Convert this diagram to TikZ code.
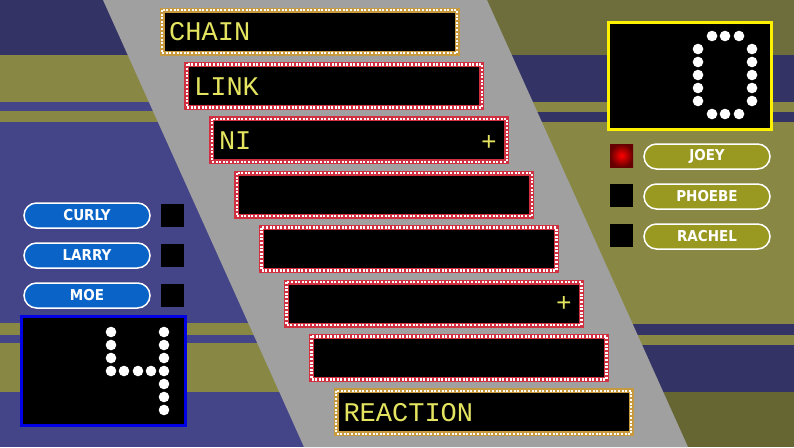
\documentclass[tikz,border=0pt]{standalone}
\usepackage{fontspec}
\setmainfont{Liberation Sans}
\newfontfamily\lcdfont{Liberation Mono}
\newfontfamily\pillfont{DejaVu Sans Condensed}
\begin{document}
\begin{tikzpicture}[x=1pt,y=-1pt,
  wordbox/.style={draw=#1,line width=5pt,fill=black},
  lights/.style={draw=white,line width=2.3pt,dash pattern=on 2pt off 1.6pt},
  lcd/.style={text=lcdy,font=\lcdfont\fontsize{27}{27}\selectfont,anchor=west,inner sep=0},
  pill/.style={draw=white,line width=1.5pt,fill=#1,rounded corners=12.5pt},
  pilltext/.style={text=white,font=\pillfont\bfseries\fontsize{15}{15}\selectfont,inner sep=0},
  dot/.style={fill=white,draw=none},
  sq/.style={fill=black,draw=none}]
\definecolor{lcdy}{HTML}{E4E460}
\definecolor{bgA}{HTML}{333366}
\definecolor{bgB}{HTML}{444488}
\definecolor{olA}{HTML}{888844}
\definecolor{olB}{HTML}{6E6E3C}
\definecolor{olC}{HTML}{666633}
\definecolor{grayband}{HTML}{A0A0A0}
\definecolor{redb}{HTML}{D03040}
\definecolor{goldb}{HTML}{C89A40}
\definecolor{pillblue}{HTML}{0A64C8}
\definecolor{pillol}{HTML}{999922}
\useasboundingbox (0,0) rectangle (794,447);
% left background
\fill[bgB] (0,0) rectangle (400,447);
\fill[bgA] (0,0) rectangle (400,55);
\fill[olA] (0,55) rectangle (400,102);
\fill[olA] (0,111) rectangle (400,122);
\fill[olA] (0,323) rectangle (400,335);
\fill[olA] (0,343) rectangle (400,392);
% right background
\fill[olA] (400,0) rectangle (794,447);
\fill[olB] (400,0) rectangle (794,55);
\fill[bgA] (400,55) rectangle (794,102);
\fill[bgA] (400,112) rectangle (794,122);
\fill[bgA] (400,324) rectangle (794,335);
\fill[bgA] (400,345) rectangle (794,392);
\fill[olC] (400,392) rectangle (794,447);
% gray band
\fill[grayband] (103,0) -- (487,0) -- (688,447) -- (304,447) -- cycle;
% word boxes
\foreach \i/\c/\w in {0/goldb/CHAIN,1/redb/LINK,2/redb/NI,3/redb/,4/redb/,5/redb/,6/redb/,7/goldb/REACTION}{
  \pgfmathsetmacro\bx{162+24.9*\i}
  \pgfmathsetmacro\by{10+54.4*\i}
  \draw[wordbox=\c] (\bx,\by) rectangle ++(295,43);
  \draw[lights] (\bx,\by) rectangle ++(295,43);
  \node[lcd] (w\i) at (\bx+7,\by+22) {\w};
}
\node[text=lcdy,font=\lcdfont\fontsize{26}{26}\selectfont,inner sep=0] (p1) at (489,143) {+};
\node[text=lcdy,font=\lcdfont\fontsize{26}{26}\selectfont,inner sep=0] (p2) at (564,304) {+};
% left team
\foreach \n/\y in {CURLY/203,LARRY/243,MOE/283}{
  \draw[pill=pillblue] (24,\y) rectangle (150,\y+25);
  \node[pilltext] (n\n) at (87,\y+12.5) {\n};
  \fill[sq] (161,\y+1) rectangle (184,\y+24);
}
\draw[line width=3pt,draw=blue!90!black,fill=black] (21.5,316.5) rectangle (185.5,425.5);
\foreach \x/\y in {111/332,111/345,111/358,111/371,124/371,138/371,151/371,164/332,164/345,164/358,164/371,164/384,164/397,164/410}
  \fill[dot] (\x,\y) circle (5.3);
% right team
\draw[line width=3pt,draw=yellow,fill=black] (608.5,22.5) rectangle (771.5,129.5);
\foreach \x/\y in {712/36,725/36,739/36,712/114,725/114,739/114,698/49,698/62,698/75,698/88,698/101,752/49,752/62,752/75,752/88,752/101}
  \fill[dot] (\x,\y) circle (5.3);
\foreach \n/\y in {JOEY/144,PHOEBE/184,RACHEL/224}{
  \draw[pill=pillol] (644,\y) rectangle (770,\y+25);
  \node[pilltext] (n\n) at (707,\y+12.5) {\n};
  \fill[sq] (610,\y) rectangle (633,\y+23);
}
\shade[inner color=red,outer color=red!40!black] (610,144) rectangle (633,167);
\end{tikzpicture}
\end{document}
